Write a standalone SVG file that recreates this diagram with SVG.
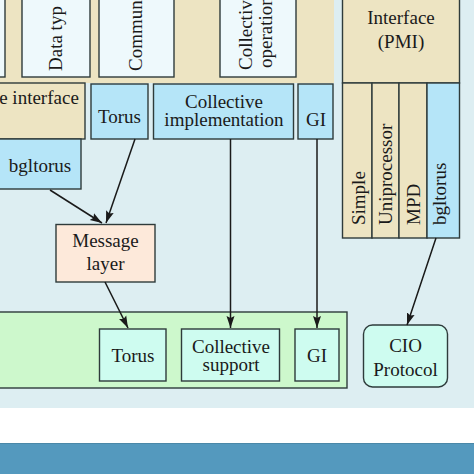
<svg xmlns="http://www.w3.org/2000/svg" width="474" height="474" viewBox="0 0 474 474">
<defs>
<style>
.b{stroke:#2e3b3b;stroke-width:1.4}
.tan{fill:#ede4c2}
.wht{fill:#eef9fc}
.blu{fill:#b5e5f8}
.aq{fill:#cefcf0}
.t{font-family:"Liberation Serif","Times New Roman",serif;font-size:19px;fill:#1a1a1a;text-anchor:middle}
.r{text-anchor:start}
.c{stroke:#1a1a1a;stroke-width:1.5;fill:none;marker-end:url(#ah)}
</style>
<marker id="ah" viewBox="0 0 12 10" refX="12" refY="5" markerWidth="12" markerHeight="10" orient="auto" markerUnits="userSpaceOnUse">
<path d="M0,1 L12,5 L0,9 L2,5 z" fill="#1a1a1a"/>
</marker>
</defs>
<rect x="0" y="0" width="474" height="408" fill="#ddeef2"/>
<rect x="0" y="408" width="474" height="35" fill="#ffffff"/>
<rect x="0" y="443" width="474" height="31" fill="#5499be"/>
<line x1="0" y1="443.5" x2="474" y2="443.5" stroke="#4a88a8" stroke-width="1"/>

<g id="top-band">
<rect x="-2" y="-2" width="336" height="85" class="tan"/>
</g>
<g id="left-box"><rect x="-10" y="-2" width="15" height="79" class="wht b"/></g>
<g id="data-types">
<rect x="22" y="-2" width="68" height="79" class="wht b"/>
<text class="t r" transform="translate(62,71) rotate(-90)">Data typ</text>
</g>
<g id="communication">
<rect x="99" y="-2" width="75" height="79" class="wht b"/>
<text class="t r" transform="translate(142,71) rotate(-90)">Commun</text>
</g>
<g id="collective-operation">
<rect x="220" y="-2" width="76" height="79" class="wht b"/>
<text class="t r" transform="translate(252,70) rotate(-90)">Collectiv</text>
<text class="t r" transform="translate(272,68) rotate(-90)">operation</text>
</g>

<g id="interface">
<rect x="-2" y="83" width="87" height="56" class="tan b"/>
<text class="t" x="39" y="104">e interface</text>
</g>
<g id="torus-top">
<rect x="91" y="84" width="57" height="55" class="blu b"/>
<text class="t" x="119.5" y="123">Torus</text>
</g>
<g id="collective-implementation">
<rect x="153.5" y="84" width="140" height="55" class="blu b"/>
<text class="t" x="224" y="107.5">Collective</text>
<text class="t" x="224" y="126">implementation</text>
</g>
<g id="gi-top">
<rect x="298" y="84" width="35" height="55" class="blu b"/>
<text class="t" x="316" y="126">GI</text>
</g>
<g id="bgltorus-left">
<rect x="-2" y="139" width="83" height="50" class="blu b"/>
<text class="t" x="40" y="172">bgltorus</text>
</g>

<g id="pmi">
<rect x="342.5" y="-2" width="117" height="85" class="tan b"/>
<text class="t" x="401" y="24">Interface</text>
<text class="t" x="401" y="48">(PMI)</text>
</g>
<g id="pmi-simple">
<rect x="342.5" y="83" width="29.5" height="155" class="tan b"/>
<text class="t r" transform="translate(365,225) rotate(-90)">Simple</text>
</g>
<g id="pmi-uniprocessor">
<rect x="372" y="83" width="27" height="155" class="tan b"/>
<text class="t r" transform="translate(392,225) rotate(-90)">Uniprocessor</text>
</g>
<g id="pmi-mpd">
<rect x="399" y="83" width="28" height="155" class="tan b"/>
<text class="t r" transform="translate(420,225) rotate(-90)">MPD</text>
</g>
<g id="pmi-bgltorus">
<rect x="427" y="83" width="32.5" height="155" class="blu b"/>
<text class="t r" transform="translate(446,225) rotate(-90)">bgltorus</text>
</g>

<g id="message-layer">
<rect x="56" y="224.5" width="99" height="57.5" fill="#fde9da" class="b"/>
<text class="t" x="105.5" y="247">Message</text>
<text class="t" x="105.5" y="270">layer</text>
</g>

<g id="bottom-band">
<rect x="-2" y="312" width="349" height="76" fill="#cdf8cc" class="b"/>
</g>
<g id="torus-bottom">
<rect x="99.5" y="329" width="66.5" height="52" class="aq b"/>
<text class="t" x="133" y="362">Torus</text>
</g>
<g id="collective-support">
<rect x="181.5" y="329" width="98" height="52" class="aq b"/>
<text class="t" x="231" y="352.5">Collective</text>
<text class="t" x="231" y="370.5">support</text>
</g>
<g id="gi-bottom">
<rect x="295" y="329" width="44" height="52" class="aq b"/>
<text class="t" x="317" y="362">GI</text>
</g>
<g id="cio-protocol">
<rect x="363.5" y="325" width="84" height="62" rx="9" class="aq b"/>
<text class="t" x="405.5" y="352">CIO</text>
<text class="t" x="405.5" y="376">Protocol</text>
</g>

<g id="connectors">
<line class="c" x1="50" y1="190" x2="102" y2="223"/>
<line class="c" x1="135" y1="139" x2="106" y2="223"/>
<line class="c" x1="105" y1="282" x2="128" y2="328"/>
<line class="c" x1="230.5" y1="139" x2="230.5" y2="328"/>
<line class="c" x1="317" y1="139" x2="317" y2="328"/>
<line class="c" x1="436" y1="238" x2="407" y2="325"/>
</g>
</svg>
